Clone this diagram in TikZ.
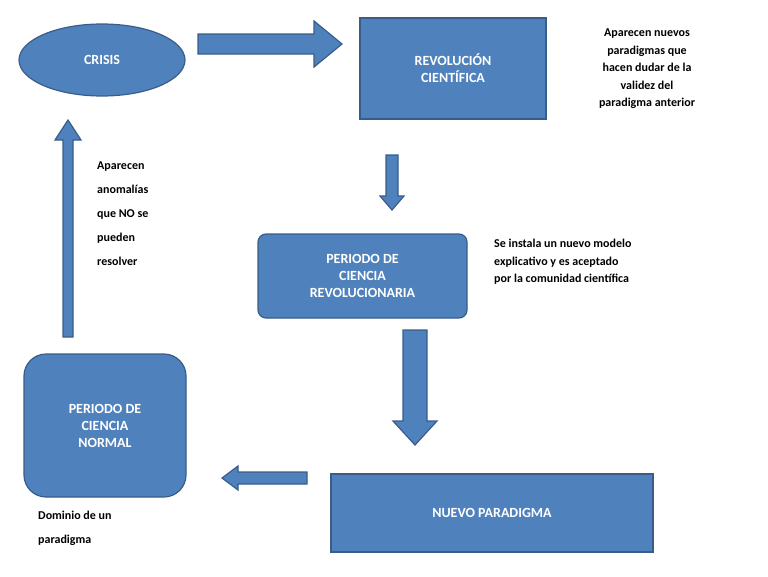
\documentclass[tikz,border=0pt]{standalone}
\usepackage{fontspec}
\setmainfont{Carlito}
\usetikzlibrary{shapes.geometric}
\definecolor{bfill}{HTML}{4F81BD}
\definecolor{bline}{HTML}{385D8A}
\tikzset{
 box/.style={fill=bfill,draw=bline,line width=1.2pt,text=white,font=\bfseries\fontsize{14}{17}\selectfont,align=center},
 barrow/.style={fill=bfill,draw=bline,line width=1.2pt},
 note/.style={font=\bfseries\fontsize{12}{17.5}\selectfont,inner sep=0pt}
}
% block arrows: horizontal (x1,x2,y,body half, head half, head length)
\newcommand{\harrow}[6]{\draw[barrow] (#1,#3-#4) -- (#2-#6,#3-#4) -- (#2-#6,#3-#5) -- (#2,#3) -- (#2-#6,#3+#5) -- (#2-#6,#3+#4) -- (#1,#3+#4) -- cycle;}
\newcommand{\varrow}[6]{\draw[barrow] (#3-#4,#1) -- (#3-#4,#2-#6) -- (#3-#5,#2-#6) -- (#3,#2) -- (#3+#5,#2-#6) -- (#3+#4,#2-#6) -- (#3+#4,#1) -- cycle;}
\begin{document}
\begin{tikzpicture}[x=1pt,y=-1pt]
\useasboundingbox (0,0) rectangle (768,576);
\node[box,ellipse,minimum width=166pt,minimum height=72pt] (crisis) at (102,60) {CRISIS};
\node[box,minimum width=186pt,minimum height=101pt] (rev) at (453,68.5) {REVOLUCIÓN\\CIENTÍFICA};
\node[box,rounded corners=8pt,minimum width=209pt,minimum height=84pt] (pcr) at (362.5,276) {PERIODO DE\\CIENCIA\\REVOLUCIONARIA};
\node[box,minimum width=322pt,minimum height=78pt] (np) at (492,513) {NUEVO PARADIGMA};
\node[box,rounded corners=22pt,minimum width=162pt,minimum height=143pt] (pcn) at (105,425.5) {PERIODO DE\\CIENCIA\\NORMAL};
\harrow{198}{342}{44}{10}{23}{28}
\varrow{155}{210}{392}{6}{12}{14}
\varrow{330}{445}{415}{12}{22}{24}
\draw[barrow] (307,472) -- (238,472) -- (238,466) -- (222,478) -- (238,490) -- (238,484) -- (307,484) -- cycle;
\draw[barrow] (63,337) -- (63,140) -- (55,140) -- (68,120) -- (81,140) -- (73,140) -- (73,337) -- cycle;
\node[note,align=center] (t1) at (647,69) {Aparecen nuevos\\paradigmas que\\hacen dudar de la\\validez del\\paradigma anterior};
\node[note,align=left,anchor=north west] (t2) at (494,239) {Se instala un nuevo modelo\\explicativo y es aceptado\\por la comunidad científica};
\node[note,align=left,anchor=north west,font=\bfseries\fontsize{12}{24}\selectfont] (t3) at (97,162) {Aparecen\\anomalías\\que NO se\\pueden\\resolver};
\node[note,align=left,anchor=north west,font=\bfseries\fontsize{12}{24}\selectfont] (t4) at (38,511) {Dominio de un\\paradigma};
\end{tikzpicture}
\end{document}
